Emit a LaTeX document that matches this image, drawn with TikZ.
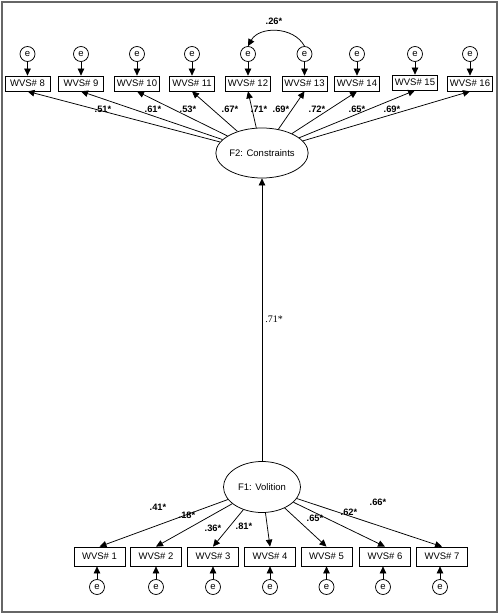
\documentclass[tikz,border=0pt]{standalone}
\usepackage{fontspec}
\setmainfont{Liberation Sans}
\newfontfamily\serifnum{Liberation Serif}
\usetikzlibrary{arrows.meta, shapes.geometric}

\begin{document}
\begin{tikzpicture}[x=1pt, y=-1pt, line width=0.75pt,
    every node/.style={font=\fontsize{9.5}{11}\selectfont},
    ind/.style={draw, rectangle, inner sep=0pt, minimum height=15pt, minimum width=45pt},
    err/.style={draw, circle, inner sep=0pt, minimum size=15pt},
    fac/.style={draw, ellipse, inner sep=0pt},
    lbl/.style={inner sep=0pt, font=\fontsize{9.3}{10}\selectfont\bfseries},
    load/.style={-{Triangle[length=7pt, width=6.5pt]}}]
    \useasboundingbox (0,0) rectangle (500,615);
    % frame
    \draw[gray!80!black, line width=1.6pt] (2,2) rectangle (497,612);

    % F2 and its indicators
    \node[fac, minimum width=82pt, minimum height=50pt] (f2) at (262,153) {F2: Constraints};
    \node[ind] (v8) at (27.5,83.5) {WVS\# 8};
    \node[ind] (v9) at (81,83.5) {WVS\# 9};
    \node[ind] (v10) at (137,83.5) {WVS\# 10};
    \node[ind] (v11) at (192,83.5) {WVS\# 11};
    \node[ind] (v12) at (248,83.5) {WVS\# 12};
    \node[ind] (v13) at (304.5,83.5) {WVS\# 13};
    \node[ind] (v14) at (357,83.5) {WVS\# 14};
    \node[ind] (v15) at (415,82.5) {WVS\# 15};
    \node[ind] (v16) at (470,83.5) {WVS\# 16};
    \node[err] (e8) at (27.5,54) {e};
    \node[err] (e9) at (81,54) {e};
    \node[err] (e10) at (137,54) {e};
    \node[err] (e11) at (192,54) {e};
    \node[err] (e12) at (248,54) {e};
    \node[err] (e13) at (304.5,54) {e};
    \node[err] (e14) at (357,54) {e};
    \node[err] (e15) at (415,54) {e};
    \node[err] (e16) at (470,54) {e};
    \draw[load] (e8)--(v8); \draw[load] (e9)--(v9); \draw[load] (e10)--(v10);
    \draw[load] (e11)--(v11); \draw[load] (e12)--(v12); \draw[load] (e13)--(v13);
    \draw[load] (e14)--(v14); \draw[load] (e15)--(v15); \draw[load] (e16)--(v16);
    \draw[load] (f2)--(v8.south); \draw[load] (f2)--(v9.south); \draw[load] (f2)--(v10.south);
    \draw[load] (f2)--(v11.south); \draw[load] (f2)--(v12.south); \draw[load] (f2)--(v13.south);
    \draw[load] (f2)--(v14.south); \draw[load] (f2)--(v15.south); \draw[load] (f2)--(v16.south);
    \draw[load, {Triangle[length=7pt, width=6.5pt]}-] (e12.north) .. controls (259,26) and (293.5,26) .. (e13.north);
    \node[lbl] (c1213) at (274,21) {.26*};
    \node[lbl] (l8) at (103,109) {.51*};
    \node[lbl] (l9) at (153,109) {.61*};
    \node[lbl] (l10) at (188,109) {.53*};
    \node[lbl] (l11) at (230,109) {.67*};
    \node[lbl] (l12) at (259,109) {.71*};
    \node[lbl] (l13) at (281,109) {.69*};
    \node[lbl] (l14) at (317,109) {.72*};
    \node[lbl] (l15) at (357,109) {.65*};
    \node[lbl] (l16) at (392,109) {.69*};

    % F1 and its indicators
    \node[fac, minimum width=77pt, minimum height=51pt] (f1) at (262,487) {F1: Volition};
    \draw[load, {Triangle[length=7pt, width=6.5pt]}-] (f2)--(f1);
    \node[inner sep=0pt, font=\serifnum\fontsize{10}{11}\selectfont] (r12) at (274,319) {.71*};
    \node[ind, minimum width=51pt, minimum height=19pt] (v1) at (99.5,556.5) {WVS\# 1};
    \node[ind, minimum width=51pt, minimum height=19pt] (v2) at (156,556.5) {WVS\# 2};
    \node[ind, minimum width=51pt, minimum height=19pt] (v3) at (213,556.5) {WVS\# 3};
    \node[ind, minimum width=51pt, minimum height=19pt] (v4) at (270,556.5) {WVS\# 4};
    \node[ind, minimum width=51pt, minimum height=19pt] (v5) at (326.5,556.5) {WVS\# 5};
    \node[ind, minimum width=51pt, minimum height=19pt] (v6) at (385,556.5) {WVS\# 6};
    \node[ind, minimum width=51pt, minimum height=19pt] (v7) at (442,556.5) {WVS\# 7};
    \node[err] (e1) at (97,587) {e};
    \node[err] (e2) at (156,587) {e};
    \node[err] (e3) at (213,587) {e};
    \node[err] (e4) at (270,587) {e};
    \node[err] (e5) at (326.5,587) {e};
    \node[err] (e6) at (383,587) {e};
    \node[err] (e7) at (440,587) {e};
    \draw[load] (e1)--(e1 |- v1.south); \draw[load] (e2)--(v2); \draw[load] (e3)--(v3);
    \draw[load] (e4)--(v4); \draw[load] (e5)--(v5); \draw[load] (e6)--(e6 |- v6.south);
    \draw[load] (e7)--(e7 |- v7.south);
    \draw[load] (f1)--(v1.north); \draw[load] (f1)--(v2.north); \draw[load] (f1)--(v3.north);
    \draw[load] (f1)--(v4.north); \draw[load] (f1)--(v5.north); \draw[load] (f1)--(v6.north);
    \draw[load] (f1)--(v7.north);
    \node[lbl] (l1) at (158,507) {.41*};
    \node[lbl] (l2) at (187,515) {.18*};
    \node[lbl] (l3) at (213,528) {.36*};
    \node[lbl] (l4) at (244,526) {.81*};
    \node[lbl] (l5) at (315,518) {.65*};
    \node[lbl] (l6) at (349,512) {.62*};
    \node[lbl] (l7) at (378,502) {.66*};
\end{tikzpicture}
\end{document}
